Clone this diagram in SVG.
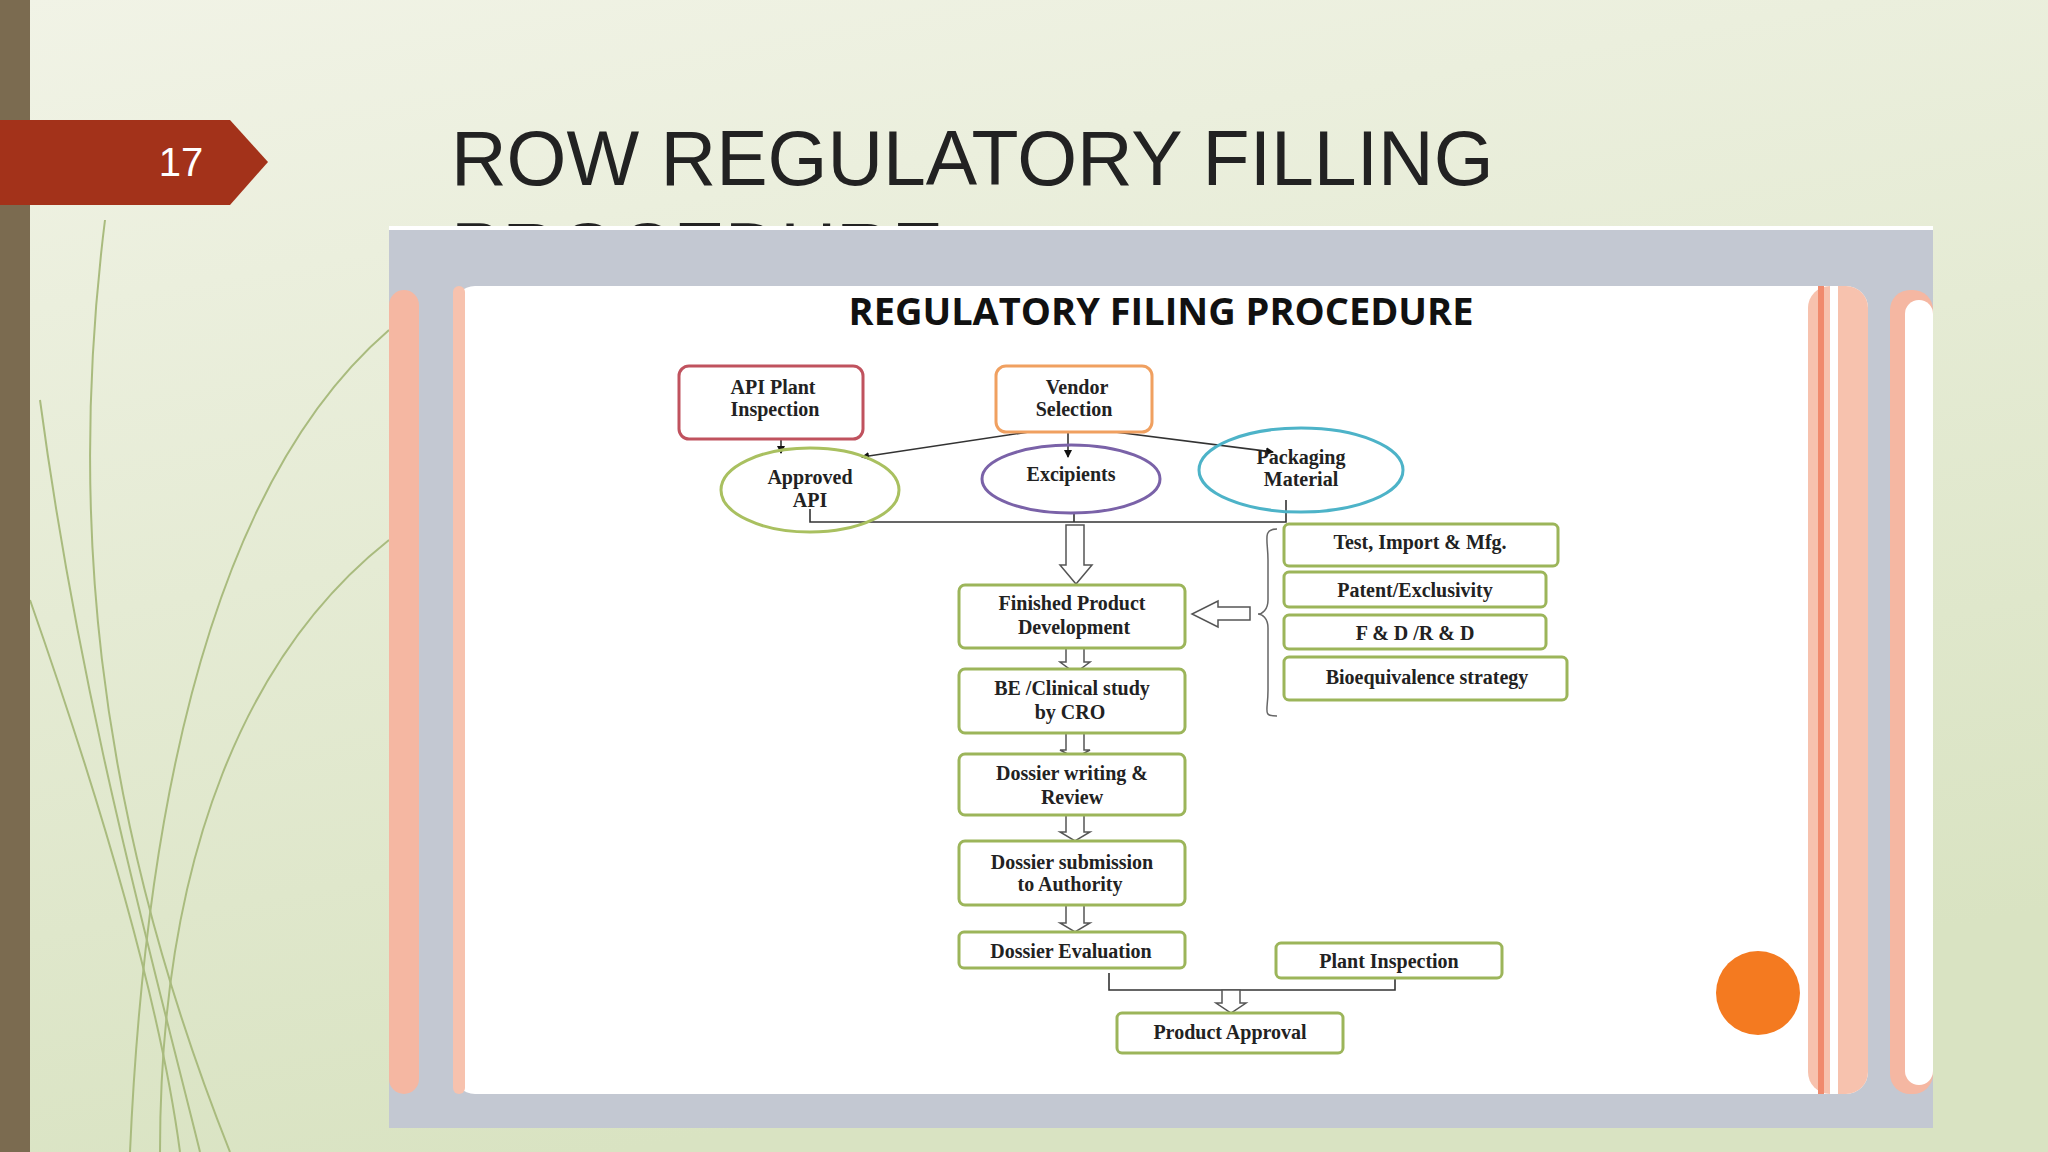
<svg xmlns="http://www.w3.org/2000/svg" width="2048" height="1152" viewBox="0 0 2048 1152">
<defs>
<linearGradient id="bg" x1="0" y1="0" x2="0.3" y2="1"><stop offset="0" stop-color="#f1f3e6"/><stop offset="1" stop-color="#d9e3c2"/></linearGradient>
<marker id="ah" markerWidth="8" markerHeight="8" refX="7" refY="4" orient="auto" markerUnits="userSpaceOnUse"><path d="M0,0 L8,4 L0,8 z" fill="#111"/></marker>
<style>
.t{font-family:"Liberation Serif",serif;font-weight:bold;font-size:20px;fill:#222;text-anchor:middle}
.g{fill:#fff;stroke:#9cb55a;stroke-width:3}
.ln{stroke:#333;stroke-width:1.6;fill:none}
.ba{fill:#fff;stroke:#555;stroke-width:1.5}
.deco{fill:none;stroke:#a9bb7e;stroke-width:2}
</style>
</defs>
<rect width="2048" height="1152" fill="url(#bg)"/>
<path class="deco" d="M105,220 C70,500 90,800 230,1152"/>
<path class="deco" d="M40,400 C80,700 150,950 200,1152" stroke-width="5" stroke="#8ea06a"/>
<path class="deco" d="M389,330 C250,450 150,700 130,1152"/>
<path class="deco" d="M389,540 C250,650 160,850 160,1152" stroke="#8ea06a" stroke-width="3"/>
<path class="deco" d="M30,600 C100,800 160,1000 180,1152" stroke="#c5d2a4" stroke-width="6"/>
<rect x="0" y="0" width="30" height="1152" fill="#7b6b50"/>
<path d="M0,120 H230 L268,162 L230,205 H0 z" fill="#a3321a"/>
<text x="181" y="176" font-family="Liberation Sans,sans-serif" font-size="40" fill="#fff" text-anchor="middle">17</text>
<text x="451" y="185" font-family="Liberation Sans,sans-serif" font-size="77" fill="#222">ROW REGULATORY FILLING</text>
<text x="451" y="277" font-family="Liberation Sans,sans-serif" font-size="77" fill="#222">PROCEDURE</text>
<rect x="389" y="226" width="1544" height="902" fill="#c3c8d2"/>
<rect x="389" y="226" width="1544" height="4" fill="#fff"/>
<rect x="389" y="290" width="30" height="804" rx="15" fill="#f5b7a2"/>
<rect x="1890" y="290" width="43" height="804" rx="20" fill="#f5b7a2"/>
<rect x="1905" y="300" width="28" height="785" rx="14" fill="#fff"/>
<rect x="453" y="286" width="1415" height="808" rx="22" fill="#fff"/>
<rect x="1808" y="286" width="60" height="808" rx="22" fill="#f7c2ae"/>
<rect x="1818" y="286" width="6" height="808" fill="#f08a6d"/>
<rect x="1830" y="286" width="8" height="808" fill="#fff"/>
<rect x="453" y="286" width="12" height="808" rx="6" fill="#f7c2ae"/>
<circle cx="1758" cy="993" r="42" fill="#f47a20"/>
<text x="1161" y="325" font-family="Open Sans,sans-serif" font-weight="bold" font-size="38" fill="#111" text-anchor="middle">REGULATORY FILING PROCEDURE</text>
<g id="connectors">
<line class="ln" x1="1068" y1="426" x2="862" y2="457" marker-end="url(#ah)"/>
<line class="ln" x1="1068" y1="426" x2="1068" y2="457" marker-end="url(#ah)"/>
<line class="ln" x1="1068" y1="426" x2="1273" y2="452" marker-end="url(#ah)"/>
<line class="ln" x1="781" y1="431" x2="781" y2="453" marker-end="url(#ah)"/>
<path class="ln" d="M810,509 V522 H1286 V500 M1074,513 V522" stroke="#777"/>
<path class="ba" d="M1066,525 H1084 V565 H1092 L1076,584 L1060,565 H1066 z"/>
<path class="ba" d="M1250,607 H1218 V601 L1192,614 L1218,627 V620 H1250 z"/>
<path class="ba" d="M1066,640 H1084 V662 H1090 L1075,673 L1060,662 H1066 z"/>
<path class="ba" d="M1066,733 H1084 V750 H1090 L1075,758 L1060,750 H1066 z"/>
<path class="ba" d="M1066,810 H1084 V832 H1090 L1075,841 L1060,832 H1066 z"/>
<path class="ba" d="M1066,905 H1084 V923 H1090 L1075,932 L1060,923 H1066 z"/>
<path d="M1277,529 C1262,529 1268,540 1268,560 V600 C1268,610 1262,614 1258,614 C1262,614 1268,618 1268,628 V690 C1268,712 1262,716 1277,716" fill="none" stroke="#666" stroke-width="1.5"/>
<path class="ln" d="M1109,973 V990 H1395 V978" stroke="#555"/>
<path class="ba" d="M1222,990 H1240 V1003 H1246 L1231,1013 L1216,1003 H1222 z"/>
</g>
<g id="api-plant"><rect x="679" y="366" width="184" height="73" rx="10" fill="#fff" stroke="#c0525e" stroke-width="3"/><text class="t" x="773" y="394">API Plant</text><text class="t" x="775" y="416">Inspection</text></g>
<g id="vendor"><rect x="996" y="366" width="156" height="66" rx="10" fill="#fff" stroke="#f0a060" stroke-width="3"/><text class="t" x="1077" y="394">Vendor</text><text class="t" x="1074" y="416">Selection</text></g>
<g id="approved-api"><ellipse cx="810" cy="490" rx="89" ry="42" fill="none" stroke="#a9c060" stroke-width="3"/><text class="t" x="810" y="484">Approved</text><text class="t" x="810" y="507">API</text></g>
<g id="excipients"><ellipse cx="1071" cy="479" rx="89" ry="34" fill="none" stroke="#7a62a8" stroke-width="3"/><text class="t" x="1071" y="481">Excipients</text></g>
<g id="packaging"><ellipse cx="1301" cy="470" rx="102" ry="42" fill="none" stroke="#4db3c8" stroke-width="3"/><text class="t" x="1301" y="464">Packaging</text><text class="t" x="1301" y="486">Material</text></g>
<g id="fpd"><rect class="g" x="959" y="585" width="226" height="63" rx="6"/><text class="t" x="1072" y="610">Finished Product</text><text class="t" x="1074" y="634">Development</text></g>
<g id="be"><rect class="g" x="959" y="669" width="226" height="64" rx="6"/><text class="t" x="1072" y="695">BE /Clinical study</text><text class="t" x="1070" y="719">by CRO</text></g>
<g id="dw"><rect class="g" x="959" y="754" width="226" height="61" rx="6"/><text class="t" x="1072" y="780">Dossier writing &amp;</text><text class="t" x="1072" y="804">Review</text></g>
<g id="ds"><rect class="g" x="959" y="841" width="226" height="64" rx="6"/><text class="t" x="1072" y="869">Dossier submission</text><text class="t" x="1070" y="891">to Authority</text></g>
<g id="de"><rect class="g" x="959" y="932" width="226" height="36" rx="5"/><text class="t" x="1071" y="958">Dossier Evaluation</text></g>
<g id="test"><rect class="g" x="1284" y="524" width="274" height="42" rx="5"/><text class="t" x="1420" y="549">Test, Import &amp; Mfg.</text></g>
<g id="patent"><rect class="g" x="1284" y="572" width="262" height="35" rx="5"/><text class="t" x="1415" y="597">Patent/Exclusivity</text></g>
<g id="fdrd"><rect class="g" x="1284" y="615" width="262" height="34" rx="5"/><text class="t" x="1415" y="640">F &amp; D /R &amp; D</text></g>
<g id="bioeq"><rect class="g" x="1284" y="657" width="283" height="43" rx="5"/><text class="t" x="1427" y="684">Bioequivalence strategy</text></g>
<g id="plant-insp"><rect class="g" x="1276" y="943" width="226" height="35" rx="5"/><text class="t" x="1389" y="968">Plant Inspection</text></g>
<g id="approval"><rect class="g" x="1117" y="1013" width="226" height="40" rx="5"/><text class="t" x="1230" y="1039">Product Approval</text></g>
</svg>
